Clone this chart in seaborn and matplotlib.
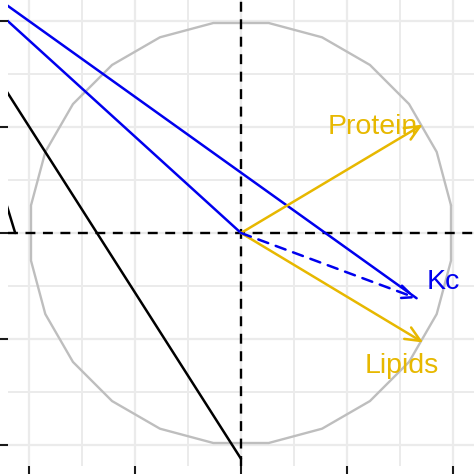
import numpy as np
import pandas as pd
import matplotlib
matplotlib.use("Agg")
import matplotlib.pyplot as plt
import seaborn as sns

# ---- data ----
var_names = ["Protein", "Lipids", "Kc"]
var_x = [0.858, 0.860, 0.829]
var_y = [0.512, -0.517, -0.308]
var_colors = ["#E7B800", "#E7B800", "#0000EE"]
var_dashed = [False, False, True]
label_x = [0.62, 0.758, 0.953]
label_y = [0.50, -0.63, -0.232]

# extra segments (x0, y0, x1, y1)
seg_names = ["blue_upper", "blue_lower", "black_main", "black_small"]
seg_x0 = [-1.12, -1.12, -1.12, -1.11]
seg_y0 = [1.086, 1.018, 0.690, 0.144]
seg_x1 = [0.829, 0.0, 0.0, -1.066]
seg_y1 = [-0.308, 0.0, -1.066, 0.0]
seg_colors = ["#0000EE", "#0000EE", "#000000", "#000000"]

major_ticks = [-1.0, -0.5, 0.0, 0.5, 1.0]
minor_ticks = [-0.75, -0.25, 0.25, 0.75]

sns.set_theme(style="white")
plt.rcParams["font.family"] = ["Liberation Sans", "DejaVu Sans"]

fig = plt.figure(figsize=(4.74, 4.74), dpi=100)
ax = fig.add_axes([8 / 474, 8 / 474, 466 / 474, 466 / 474])
ax.set_xlim(-1.1, 1.1)
ax.set_ylim(-1.1, 1.1)

for s in ax.spines.values():
    s.set_visible(False)
ax.set_xticks(major_ticks)
ax.set_yticks(major_ticks)
ax.set_xticks(minor_ticks, minor=True)
ax.set_yticks(minor_ticks, minor=True)
ax.set_xticklabels([])
ax.set_yticklabels([])
ax.tick_params(which="major", direction="out", length=5.5, width=1.5,
               color="#1a1a1a", bottom=True, left=True, top=False, right=False)
ax.tick_params(which="minor", length=0, bottom=False, left=False)
ax.grid(True, which="major", color="#EBEBEB", linewidth=1.6)
ax.grid(True, which="minor", color="#EBEBEB", linewidth=1.4)
ax.set_axisbelow(True)

# correlation circle (24-gon as in the reference)
ang = np.deg2rad(7.5 + 15 * np.arange(25))
circ = pd.DataFrame({"x": np.cos(ang), "y": np.sin(ang)})
sns.lineplot(data=circ, x="x", y="y", sort=False, estimator=None,
             color="#BEBEBE", linewidth=1.7, ax=ax)

# axis reference lines
dash = (0, (4.2, 3.2))
ax.axhline(0, color="black", linestyle=dash, linewidth=1.7, zorder=2)
ax.axvline(0, color="black", linestyle=dash, linewidth=1.7, zorder=2)

# extra segments
for i in range(len(seg_names)):
    d = pd.DataFrame({"x": [seg_x0[i], seg_x1[i]], "y": [seg_y0[i], seg_y1[i]]})
    sns.lineplot(data=d, x="x", y="y", sort=False, estimator=None,
                 color=seg_colors[i], linewidth=1.8, ax=ax)

# variable arrows
for i in range(len(var_names)):
    ls = dash if var_dashed[i] else "-"
    ax.annotate("", xy=(var_x[i], var_y[i]), xytext=(0, 0),
                arrowprops=dict(arrowstyle="->,head_length=0.9,head_width=0.4",
                                color=var_colors[i], lw=1.8, linestyle=ls,
                                shrinkA=0, shrinkB=0), zorder=4)
    ax.text(label_x[i], label_y[i], var_names[i], color=var_colors[i],
            fontsize=20.5, ha="center", va="center", zorder=5)

ax.set_xlabel("")
ax.set_ylabel("")
fig.savefig("out.png", dpi=100)
